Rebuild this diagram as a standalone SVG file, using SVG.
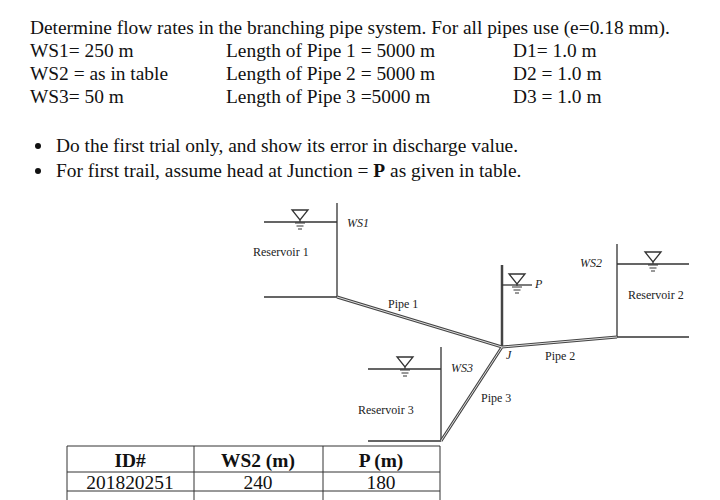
<svg xmlns="http://www.w3.org/2000/svg" width="720" height="500" viewBox="0 0 720 500">
<style>
.t{font-family:"Liberation Serif",serif;font-size:19.4px;fill:#111}
.s{font-family:"Liberation Serif",serif;font-size:12px;fill:#222}
.i{font-style:italic}
.l{stroke:#333;stroke-width:1.3;fill:none}
.p{stroke:#444;stroke-width:3;fill:none}
.pi{stroke:#ddd;stroke-width:1;fill:none}
.tb{stroke:#333;stroke-width:1;fill:none}
</style>
<defs>
<g id="ws"><path d="M-8,-9 H8 L0,1 Z" fill="none" stroke="#333" stroke-width="1.3"/><path d="M-5,4 H5 M-3.5,7 H3.5 M-2,10 H2" stroke="#333"/><path d="M0,1 V3" stroke="#333"/></g>
</defs>
<rect width="720" height="500" fill="#fff"/>
<g id="header">
<text class="t" x="30" y="34">Determine flow rates in the branching pipe system. For all pipes use (e=0.18 mm).</text>
<text class="t" x="30" y="57">WS1= 250 m</text><text class="t" x="226" y="57">Length of Pipe 1 = 5000 m</text><text class="t" x="513" y="57">D1= 1.0 m</text>
<text class="t" x="30" y="80">WS2 = as in table</text><text class="t" x="226" y="80">Length of Pipe 2 = 5000 m</text><text class="t" x="513" y="80">D2 = 1.0 m</text>
<text class="t" x="30" y="103">WS3= 50 m</text><text class="t" x="226" y="103">Length of Pipe 3 =5000 m</text><text class="t" x="513" y="103">D3 = 1.0 m</text>
<circle cx="38" cy="146" r="3" fill="#111"/><text class="t" x="56" y="152">Do the first trial only, and show its error in discharge value.</text>
<circle cx="38" cy="171" r="3" fill="#111"/><text class="t" x="56" y="177">For first trail, assume head at Junction = <tspan font-weight="bold">P</tspan> as given in table.</text>
</g>
<g id="reservoir1">
<path class="l" d="M337,203 V297 M264,222 H337 M264,297 H337"/>
<use href="#ws" x="300" y="219"/>
<text class="s i" x="347" y="227">WS1</text>
<text class="s" x="253" y="256">Reservoir 1</text>
</g>
<g id="reservoir2">
<path class="l" d="M617,244 V337 M617,264 H689 M617,337 H689"/>
<use href="#ws" x="653" y="261"/>
<text class="s i" x="580" y="267">WS2</text>
<text class="s" x="628" y="299">Reservoir 2</text>
</g>
<g id="reservoir3">
<path class="l" d="M441,347 V441 M368,369 H441 M368,441 H441"/>
<use href="#ws" x="405" y="366"/>
<text class="s i" x="451" y="372">WS3</text>
<text class="s" x="358" y="414">Reservoir 3</text>
</g>
<g id="junction">
<path d="M502,265 V347" stroke="#444" stroke-width="2.5"/>
<path class="l" d="M502,285 H532"/>
<use href="#ws" x="517" y="283"/>
<text class="s i" x="535" y="288">P</text>
<text class="s i" x="506" y="359">J</text>
</g>
<g id="pipes">
<path class="p" d="M337,297 L502,347 L617,337 M502,347 L441,441"/>
<path class="pi" d="M337,297 L502,347 L617,337 M502,347 L441,441"/>
<text class="s" x="388" y="308">Pipe 1</text>
<text class="s" x="545" y="360">Pipe 2</text>
<text class="s" x="481" y="402">Pipe 3</text>
</g>
<g id="table">
<path class="tb" d="M67,446 H440 M67,472 H440 M67,491 H440 M67,446 V500 M194,446 V500 M323,446 V500 M440,446 V500"/>
<text class="t" x="130" y="467" text-anchor="middle" font-weight="bold">ID#</text>
<text class="t" x="258" y="467" text-anchor="middle" font-weight="bold">WS2 (m)</text>
<text class="t" x="381" y="467" text-anchor="middle" font-weight="bold">P (m)</text>
<text class="t" x="130" y="489" text-anchor="middle">201820251</text>
<text class="t" x="258" y="489" text-anchor="middle">240</text>
<text class="t" x="381" y="489" text-anchor="middle">180</text>
</g>
</svg>
